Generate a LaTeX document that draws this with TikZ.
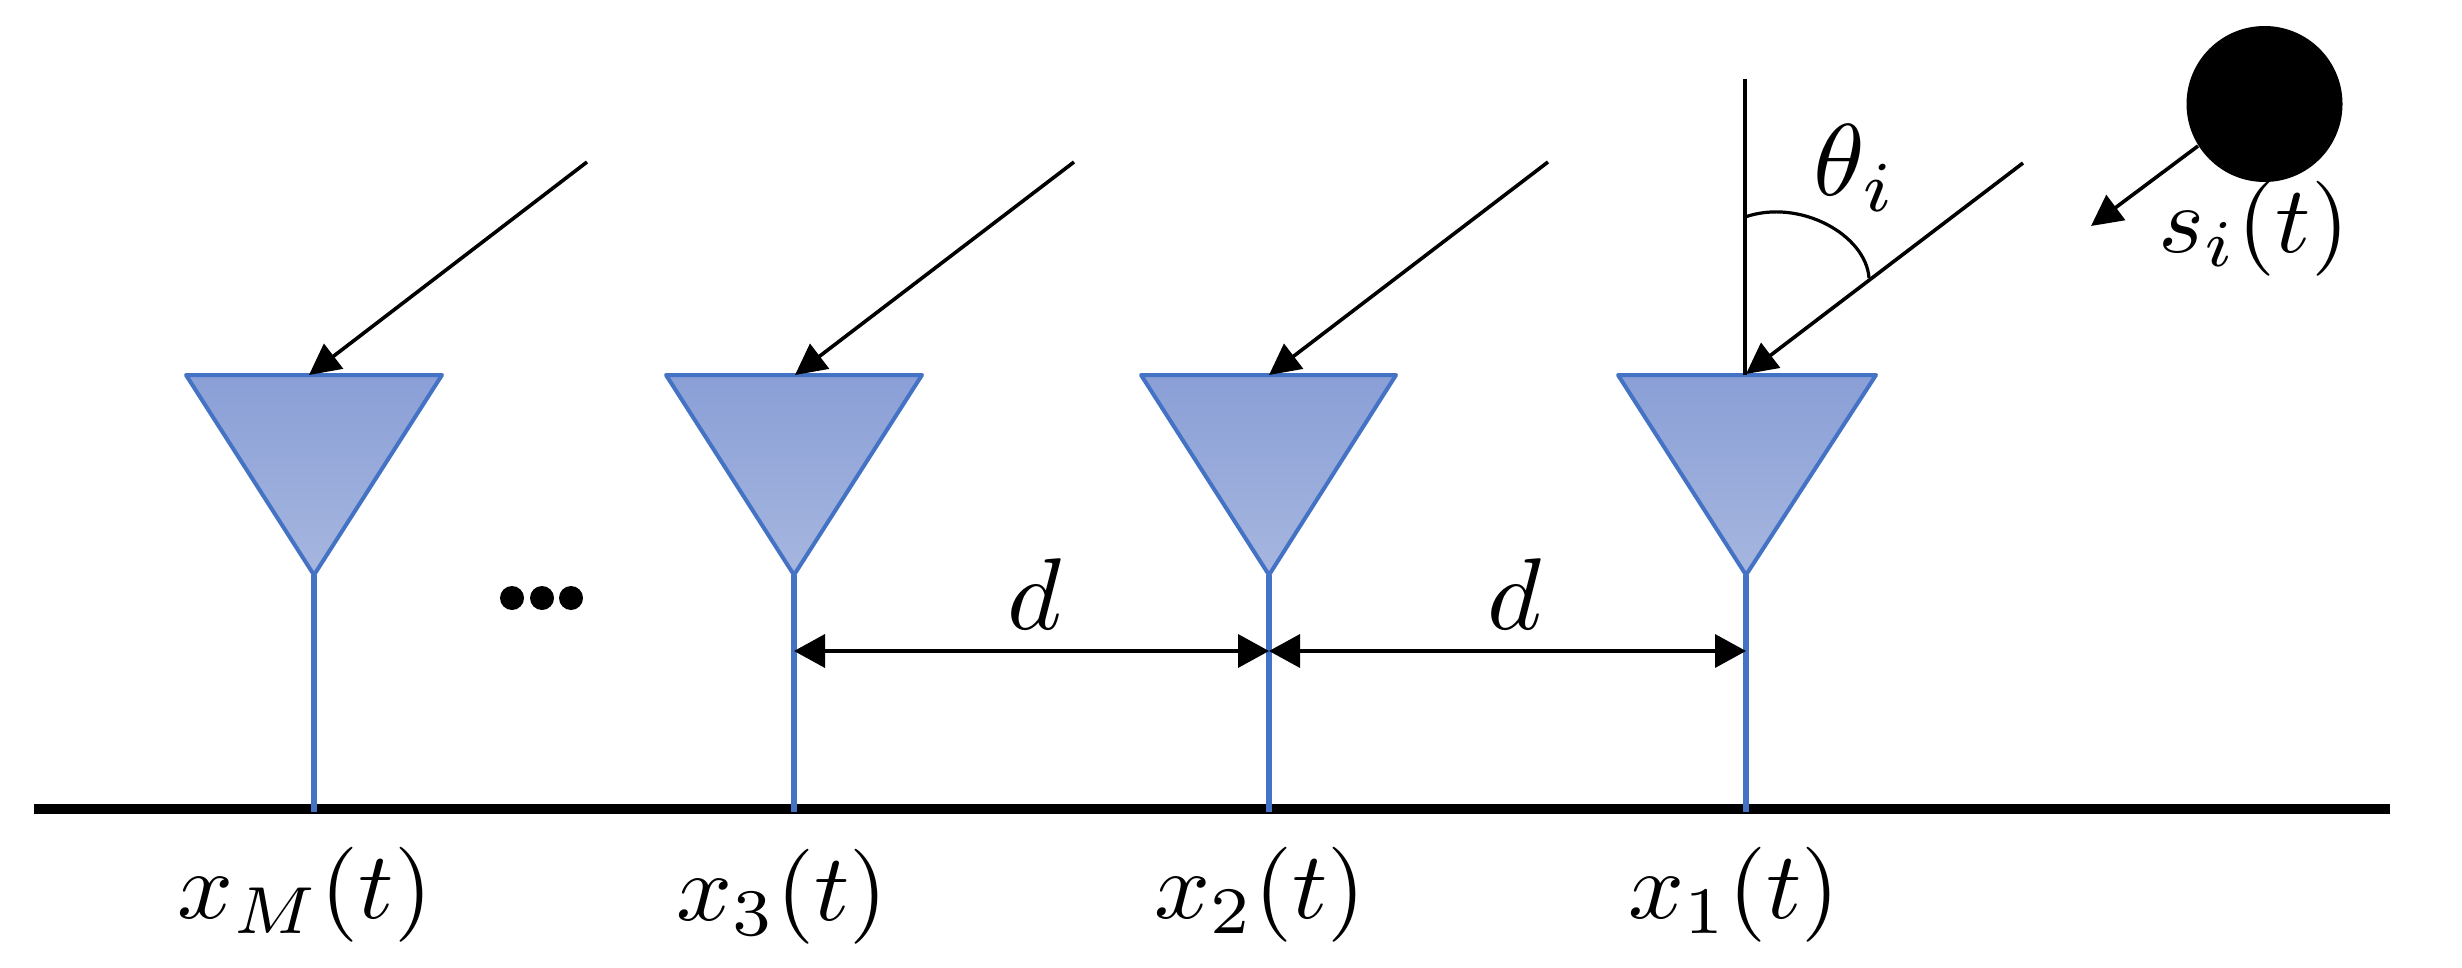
\documentclass[tikz,border=0pt]{standalone}
\usetikzlibrary{arrows.meta}
\definecolor{hornblue}{HTML}{4472C4}
\definecolor{horntop}{HTML}{8A9FD6}
\definecolor{hornbot}{HTML}{A6B6DF}
\newcommand{\biglabel}[1]{\scalebox{4.9}[4.75]{$#1$}}
\newcommand{\tall}[1]{\scalebox{5.2}[5.1]{$#1$}}
\tikzset{
  x=0.5pt,y=-0.5pt,
  horn/.style={draw=hornblue,line width=2pt,top color=horntop,bottom color=hornbot,line join=round},
  stem/.style={draw=hornblue,line width=2.8pt},
  bus/.style={draw=black,line width=4.8pt},
  ray/.style={draw=black,line width=1.8pt,-{Triangle[length=15.5pt,width=15.5pt]}},
  gap/.style={draw=black,line width=1.8pt,{Triangle[length=15.5pt,width=16.5pt]}-{Triangle[length=15.5pt,width=16.5pt]}},
  thin line/.style={draw=black,line width=1.6pt},
  lab/.style={inner sep=0pt,outer sep=0pt},
  dot/.style={circle,fill=black,draw=none,minimum size=12pt,inner sep=0pt}
}
\begin{document}
\begin{tikzpicture}
\useasboundingbox (0,0) rectangle (2462,968);
% bus
\coordinate (busL) at (34,809);
\coordinate (busR) at (2390,809);
\draw[bus] (busL) -- (busR);
% horns and feeds
\foreach \n/\l/\r/\a in {M/186/442/314,three/666/922/794,two/1141/1396/1269,one/1618/1876/1746}{
  \coordinate (tl\n) at (\l,375);
  \coordinate (tr\n) at (\r,375);
  \coordinate (ap\n) at (\a,575);
  \coordinate (bt\n) at (\a,812);
  \draw[horn] (tl\n) -- (tr\n) -- (ap\n) -- cycle;
  \draw[stem] (ap\n) -- (bt\n);
}
% incident rays
\coordinate (rayM) at (587,162);
\coordinate (tipM) at (309,375);
\coordinate (raythree) at (1074,162);
\coordinate (tipthree) at (795,375);
\coordinate (raytwo) at (1548,162);
\coordinate (tiptwo) at (1269,375);
\coordinate (rayone) at (2023,163);
\coordinate (tipone) at (1746,374);
\draw[ray] (rayM) -- (tipM);
\draw[ray] (raythree) -- (tipthree);
\draw[ray] (raytwo) -- (tiptwo);
\draw[ray] (rayone) -- (tipone);
% normal and angle
\coordinate (normtop) at (1745,79);
\coordinate (normbot) at (1745,375);
\coordinate (arcA) at (1745,217);
\coordinate (arcB) at (1869,278);
\draw[thin line] (normtop) -- (normbot);
\draw[thin line] (arcA) .. controls (1800,198) and (1866,235) .. (arcB);
% source
\node[circle,fill=black,draw=none,minimum size=78pt,inner sep=0pt] (src) at (2264.5,104) {};
\coordinate (srctip) at (2091,226);
\coordinate (srcfoot) at (2198,146);
\draw[ray] (srcfoot) -- (srctip);
% spacing arrows
\coordinate (g3) at (794,651);
\coordinate (g2) at (1269,651);
\coordinate (g1) at (1746,651);
\draw[gap] (g3) -- (g2);
\draw[gap] (g2) -- (g1);
% ellipsis dots
\node[dot] (d1) at (512,598) {};
\node[dot] (d2) at (542,598) {};
\node[dot] (d3) at (571,598) {};
% labels
\node[lab] (lblM) at (305,895) {\biglabel{x_M(t)}};
\node[lab] (lbl3) at (782,897) {\biglabel{x_3(t)}};
\node[lab] (lbl2) at (1260,895) {\biglabel{x_2(t)}};
\node[lab] (lbl1) at (1734,895) {\biglabel{x_1(t)}};
\node[lab] (dA) at (1035,594) {\tall{d}};
\node[lab] (dB) at (1515,594) {\tall{d}};
\node[lab] (theta) at (1855,168) {\tall{\theta_i}};
\node[lab] (sig) at (2254,229) {\biglabel{s_i(t)}};
\end{tikzpicture}
\end{document}
